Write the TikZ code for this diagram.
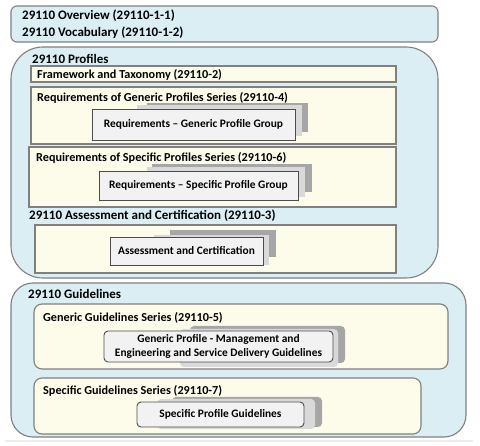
\documentclass[tikz,border=0pt]{standalone}
\usepackage{fontspec}
\setmainfont{Carlito}
\begin{document}
\begin{tikzpicture}[x=1pt,y=-1pt,
  lineclr/.style={draw=black!50, line width=1.1pt},
  outer/.style={lineclr, fill=blueback},
  cream/.style={lineclr, fill=creamback},
  frontbox/.style={draw=black!70, line width=0.9pt, fill=black!5},
  backlight/.style={fill=black!15, draw=none},
  backdark/.style={fill=black!35, draw=none},
  bigtitle/.style={anchor=west, inner sep=0pt, font=\fontsize{13}{15}\selectfont\bfseries},
  subtitle/.style={anchor=west, inner sep=0pt, font=\fontsize{12.2}{14}\selectfont\bfseries},
  innertext/.style={align=center, inner sep=0pt, font=\fontsize{11.4}{13.5}\selectfont\bfseries},
]
\definecolor{blueback}{HTML}{DAEEF3}
\definecolor{creamback}{HTML}{FDFBEA}
\useasboundingbox (0,0) rectangle (480,446);
\fill[black!7] (5,440) rectangle (473,442);

% top box
\draw[outer, rounded corners=6pt] (11,6) rectangle (438,42);
\node[bigtitle] (ov) at (22,16) {29110 Overview (29110-1-1)};
\node[bigtitle] (voc) at (22,32.5) {29110 Vocabulary (29110-1-2)};

% profiles
\draw[outer, rounded corners=32pt] (11,47) rectangle (438,278);
\node[bigtitle] (prof) at (32,59) {29110 Profiles};

\draw[cream] (31,66) rectangle (396,82);
\node[subtitle] (fw) at (37,74.5) {Framework and Taxonomy (29110-2)};

\draw[cream] (31,87) rectangle (396,144);
\node[subtitle] (gr) at (37,98) {Requirements of Generic Profiles Series (29110-4)};
\fill[backdark] (147,103) rectangle (308,132);
\fill[backlight] (137,105) rectangle (302,136);
\draw[frontbox] (92,109) rectangle (295,140);
\node[innertext] (grg) at (193.5,124.5) {Requirements -- Generic Profile Group};

\draw[cream] (29,147) rectangle (396,207);
\node[subtitle] (sr) at (36,158) {Requirements of Specific Profiles Series (29110-6)};
\fill[backdark] (152,164) rectangle (312,192);
\fill[backlight] (147,167) rectangle (305,197);
\draw[frontbox] (99,171) rectangle (298,200);
\node[innertext] (srg) at (198.5,185.5) {Requirements -- Specific Profile Group};

\node[bigtitle] (asct) at (29,216) {29110 Assessment and Certification (29110-3)};
\draw[cream] (35,225) rectangle (396,273);
\fill[backdark] (170,230) rectangle (276,257);
\fill[backlight] (154,235) rectangle (269,265);
\draw[frontbox] (110,237) rectangle (263,265);
\node[innertext] (asc) at (186.5,251) {Assessment and Certification};

% guidelines
\draw[outer, rounded corners=22pt] (11,283) rectangle (466,437);
\node[bigtitle] (guid) at (28,294) {29110 Guidelines};

\draw[cream, rounded corners=8pt] (34,304) rectangle (448,369);
\node[subtitle] (gg) at (43,318) {Generic Guidelines Series (29110-5)};
\fill[backdark, rounded corners=4pt] (190,326) rectangle (345,363);
\fill[backlight, rounded corners=4pt] (180,329) rectangle (338,367);
\draw[frontbox, rounded corners=4pt] (104,331) rectangle (333,362);
\node[innertext] (ggp) at (218.5,346.5) {Generic Profile - Management and\\Engineering and Service Delivery Guidelines};

\draw[cream, rounded corners=8pt] (34,378) rectangle (421,434);
\node[subtitle] (sg) at (43,391) {Specific Guidelines Series (29110-7)};
\fill[backdark, rounded corners=4pt] (172,397) rectangle (322,427);
\fill[backlight, rounded corners=4pt] (157,399) rectangle (315,429);
\draw[frontbox, rounded corners=4pt] (137,402) rectangle (304,427);
\node[innertext] (sgp) at (220.5,414.5) {Specific Profile Guidelines};
\end{tikzpicture}
\end{document}
